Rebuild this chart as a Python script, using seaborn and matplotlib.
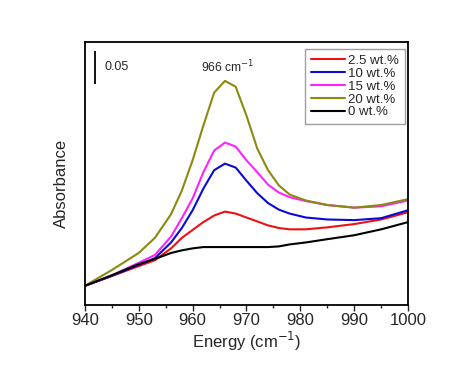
import numpy as np
import pandas as pd
import matplotlib
matplotlib.use("Agg")
import matplotlib.pyplot as plt
import seaborn as sns

# wavenumber grid (cm-1)
energy = [940, 945, 950, 953, 956, 958, 960, 962, 964, 966, 968,
          970, 972, 974, 976, 978, 981, 985, 990, 995, 1000]

# absorbance (a.u.)
abs_2_5 = [0.029, 0.044, 0.059, 0.068, 0.086, 0.102, 0.114, 0.126, 0.136, 0.142, 0.139,
           0.133, 0.127, 0.121, 0.117, 0.115, 0.115, 0.118, 0.123, 0.130, 0.141]
abs_10 = [0.029, 0.044, 0.061, 0.071, 0.095, 0.117, 0.144, 0.177, 0.205, 0.215, 0.209,
          0.189, 0.170, 0.155, 0.145, 0.139, 0.133, 0.130, 0.129, 0.132, 0.144]
abs_15 = [0.029, 0.045, 0.064, 0.076, 0.104, 0.132, 0.162, 0.202, 0.235, 0.247, 0.241,
          0.220, 0.202, 0.183, 0.171, 0.164, 0.158, 0.152, 0.148, 0.150, 0.159]
abs_20 = [0.029, 0.053, 0.079, 0.102, 0.138, 0.174, 0.220, 0.273, 0.323, 0.341, 0.332,
          0.288, 0.238, 0.205, 0.182, 0.168, 0.159, 0.152, 0.148, 0.152, 0.161]
abs_0 = [0.029, 0.045, 0.062, 0.070, 0.079, 0.083, 0.086, 0.088, 0.088, 0.088, 0.088,
         0.088, 0.088, 0.088, 0.089, 0.092, 0.095, 0.100, 0.106, 0.115, 0.126]

labels = ["2.5 wt.%", "10 wt.%", "15 wt.%", "20 wt.%", "0 wt.%"]
colors = ["#ee1111", "#0a0ad8", "#ff22ff", "#8a8a10", "#000000"]

frames = []
for lab, vals in zip(labels, [abs_2_5, abs_10, abs_15, abs_20, abs_0]):
    frames.append(pd.DataFrame({"Energy": energy, "Absorbance": vals, "sample": lab}))
df = pd.concat(frames, ignore_index=True)

sns.set_style("ticks")
plt.rcParams["font.family"] = ["Liberation Sans", "DejaVu Sans"]

fig = plt.figure(figsize=(4.74, 3.66), dpi=100)
ax = fig.add_axes([0.179, 0.167, 0.682, 0.718])

sns.lineplot(data=df, x="Energy", y="Absorbance", hue="sample", hue_order=labels,
             palette=colors, linewidth=1.5, ax=ax, sort=False)

ax.set_xlim(940, 1000)
ax.set_ylim(0, 0.4)
ax.set_xticks(np.arange(940, 1001, 10))
ax.set_xticks(np.arange(945, 1000, 10), minor=True)
ax.set_yticks([])
ax.tick_params(axis="x", which="major", direction="out", length=4, width=1, labelsize=12, pad=2)
ax.tick_params(axis="x", which="minor", direction="out", length=2.5, width=1)
for s in ax.spines.values():
    s.set_linewidth(1.3)
    s.set_color("black")

ax.set_xlabel("Energy (cm$^{-1}$)", fontsize=12, labelpad=1)
ax.set_ylabel("Absorbance", fontsize=12)
ax.yaxis.set_label_coords(-0.05, 0.462)

# scale bar
ax.vlines(941.9, 0.336, 0.386, color="black", linewidth=1.3)
ax.text(943.6, 0.362, "0.05", fontsize=9, va="center", ha="left")
ax.text(966.6, 0.362, "966 cm$^{-1}$", fontsize=8.7, va="center", ha="center")

leg = ax.legend(loc="upper right", bbox_to_anchor=(0.998, 0.985), fontsize=9.5,
                frameon=True, fancybox=False, handlelength=2.6, handletextpad=0.2,
                labelspacing=0.05, borderpad=0.45, borderaxespad=0.2)
leg.get_frame().set_edgecolor("#888888")
leg.get_frame().set_linewidth(1.0)

fig.savefig("out.png", dpi=100)
